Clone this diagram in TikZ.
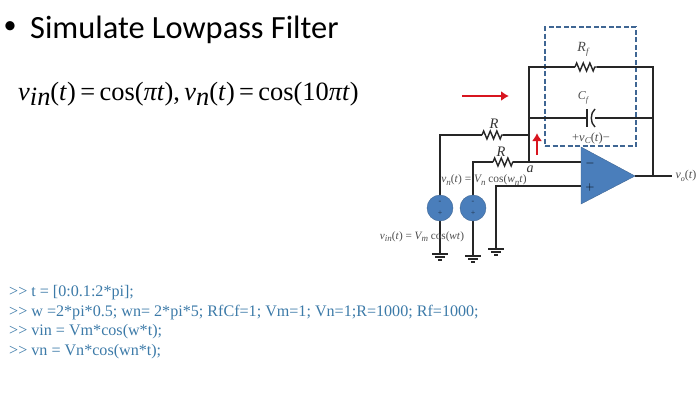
\documentclass[tikz,border=0pt]{standalone}
\usepackage{fontspec}
\setmainfont{Liberation Serif}
\newfontfamily\titlefont{Carlito}
\usetikzlibrary{arrows.meta,decorations.pathmorphing}
\definecolor{fillblue}{HTML}{4A7EBB}
\definecolor{boxblue}{HTML}{3F6693}
\definecolor{codeblue}{HTML}{3C7AA8}
\definecolor{arrowred}{HTML}{D8151F}
\newcommand{\fsize}[1]{\fontsize{#1}{#1}\selectfont}
\newcommand{\lowsub}[2]{\raisebox{-#1em}{\itshape #2}}
\tikzset{
	wire/.style={line width=1.4pt, black!85},
	zig/.style={wire, decorate, decoration={zigzag, segment length=6.6pt, amplitude=4pt}},
	redarrow/.style={line width=2.6pt, arrowred, -{Latex[length=8pt,width=10pt]}},
	source/.style={circle, draw=boxblue, fill=fillblue, minimum size=26pt, inner sep=0pt},
	partlabel/.style={black!70, inner sep=0pt},
	codeline/.style={codeblue, anchor=base west, inner sep=0pt, font=\fsize{16.1}}
}
\begin{document}
\begin{tikzpicture}[x=1pt, y=-1pt]
	\useasboundingbox (0,0) rectangle (700,400);
	% heading and formula
	\node (Bul) at (10,28) [inner sep=0pt] {\titlefont\fsize{26}•};
	\node (Title) at (30,38) [anchor=base west, inner sep=0pt] {\titlefont\fsize{32.4}Simulate Lowpass Filter};
	\node (Eq) at (18,100) [anchor=base west, inner sep=0pt] {\fsize{26.4}\textit{v}\lowsub{0.22}{in}(\textit{t})\,=\,cos(\textit{πt}),\,\textit{v}\lowsub{0.22}{n}(\textit{t})\,=\,cos(10\textit{πt})};
	% junctions
	\coordinate (RfL) at (529,67);
	\coordinate (RfA) at (575,67);
	\coordinate (RfB) at (597,67);
	\coordinate (RfR) at (653,67);
	\coordinate (CfL) at (529,118);
	\coordinate (CfA) at (587,118);
	\coordinate (CfB) at (595,118);
	\coordinate (CfR) at (653,118);
	\coordinate (RaL) at (440,135);
	\coordinate (RaA) at (482,135);
	\coordinate (RaB) at (503,135);
	\coordinate (RaR) at (529,135);
	\coordinate (RbL) at (473,162);
	\coordinate (RbA) at (493,162);
	\coordinate (RbB) at (513,162);
	\coordinate (Neg) at (529,162);
	\coordinate (AmpN) at (581,162);
	\coordinate (AmpP) at (581,186);
	\coordinate (PosL) at (496,186);
	\coordinate (AmpO) at (635,176);
	\coordinate (OutR) at (653,176);
	\coordinate (OutE) at (672,176);
	\coordinate (GndA) at (440,254);
	\coordinate (GndB) at (473,256);
	\coordinate (GndC) at (496,249);
	% feedback box
	\node (Fbox) at (590.5,86.5) [draw=boxblue, line width=1.6pt, dash pattern=on 5pt off 2.5pt, minimum width=91pt, minimum height=119pt, inner sep=0pt] {};
	% wires
	\draw[wire] (RfA) -- (RfL) -- (Neg) -- (AmpN);
	\draw[zig] (RfA) -- (RfB);
	\draw[wire] (RfB) -- (RfR) -- (OutR);
	\draw[wire] (CfL) -- (CfA);
	\draw[wire] (CfB) -- (CfR);
	\draw[wire] (CfA) ++(0,-9) -- ++(0,18);
	\draw[wire] (595,109) .. controls (590,113) and (590,123) .. (595,127);
	\draw[wire] (RaR) -- (RaB);
	\draw[zig] (RaA) -- (RaB);
	\draw[wire] (RaA) -- (RaL) -- (GndA);
	\draw[zig] (RbA) -- (RbB);
	\draw[wire] (RbB) -- (Neg);
	\draw[wire] (RbA) -- (RbL) -- (GndB);
	\draw[wire] (AmpP) -- (PosL) -- (GndC);
	\draw[wire] (AmpO) -- (OutE);
	\foreach \g in {GndA,GndB,GndC} {
		\draw[wire] (\g) ++(-8,0) -- ++(16,0);
		\draw[wire] (\g) ++(-5,3) -- ++(10,0);
		\draw[wire] (\g) ++(-2,6) -- ++(4,0);
	}
	% op amp and sources
	\draw[draw=boxblue, fill=fillblue] (581,147) -- (635,176) -- (581,204) -- cycle;
	\node (OpN) at (590,163.5) [inner sep=0pt, font=\fsize{12}] {$-$};
	\node (OpP) at (590,187) [inner sep=0pt, font=\fsize{12}] {$+$};
	\node (Vin) at (440,208) [source] {};
	\node (Vn) at (473,208) [source] {};
	\foreach \s in {Vin,Vn} {
		\node at ([yshift=-5pt]\s.center) [inner sep=0pt, boxblue!50!black, font=\fsize{8}] {+};
		\node at ([yshift=6pt]\s.center) [inner sep=0pt, boxblue!50!black, font=\fsize{8}] {-};
	}
	% red arrows
	\coordinate (HorA) at (462,96);
	\coordinate (HorB) at (509,96);
	\coordinate (VerA) at (537,155);
	\coordinate (VerB) at (537,133);
	\draw[redarrow] (HorA) -- (HorB);
	\draw[redarrow] (VerA) -- (VerB);
	% labels
	\node (LRf) at (583,49) [partlabel, font=\fsize{14}] {\textit{R\lowsub{0.2}{\fsize{9}f}}};
	\node (LCf) at (583,98) [partlabel, font=\fsize{12}] {\textit{C\lowsub{0.2}{\fsize{8}f}}};
	\node (LVc) at (591,138) [partlabel, font=\fsize{12.5}] {+\textit{v\lowsub{0.2}{\fsize{9}C}}(\textit{t})−};
	\node (LRa) at (494,124) [black!80, inner sep=0pt, font=\fsize{14.5}] {\textit{R}};
	\node (LRb) at (501,152) [black!80, inner sep=0pt, font=\fsize{14.5}] {\textit{R}};
	\node (La) at (530,169.5) [black!80, inner sep=0pt, font=\fsize{14}] {\textit{a}};
	\node (LVn) at (484,180) [partlabel, font=\fsize{11.4}] {\textit{v\lowsub{0.2}{\fsize{9}n}}(\textit{t}) = \textit{V\lowsub{0.2}{\fsize{9}n}} cos(\textit{w\lowsub{0.2}{\fsize{9}n}t})};
	\node (LVin) at (422,237) [partlabel, font=\fsize{11.2}] {\textit{v\lowsub{0.2}{\fsize{9}in}}(\textit{t}) = \textit{V\lowsub{0.2}{\fsize{9}m}} cos(\textit{wt})};
	\node (LVo) at (686,176) [partlabel, font=\fsize{12}] {\textit{v\lowsub{0.2}{\fsize{8}o}}(\textit{t})};
	% code lines
	\node (CodeA) at (9,296) [codeline] {>{}> t = [0:0.1:2*pi];};
	\node (CodeB) at (9,316) [codeline] {>{}> w =2*pi*0.5; wn= 2*pi*5; RfCf=1; Vm=1; Vn=1;R=1000; Rf=1000;};
	\node (CodeC) at (9,335) [codeline] {>{}> vin = Vm*cos(w*t);};
	\node (CodeD) at (9,355) [codeline] {>{}> vn = Vn*cos(wn*t);};
\end{tikzpicture}
\end{document}
